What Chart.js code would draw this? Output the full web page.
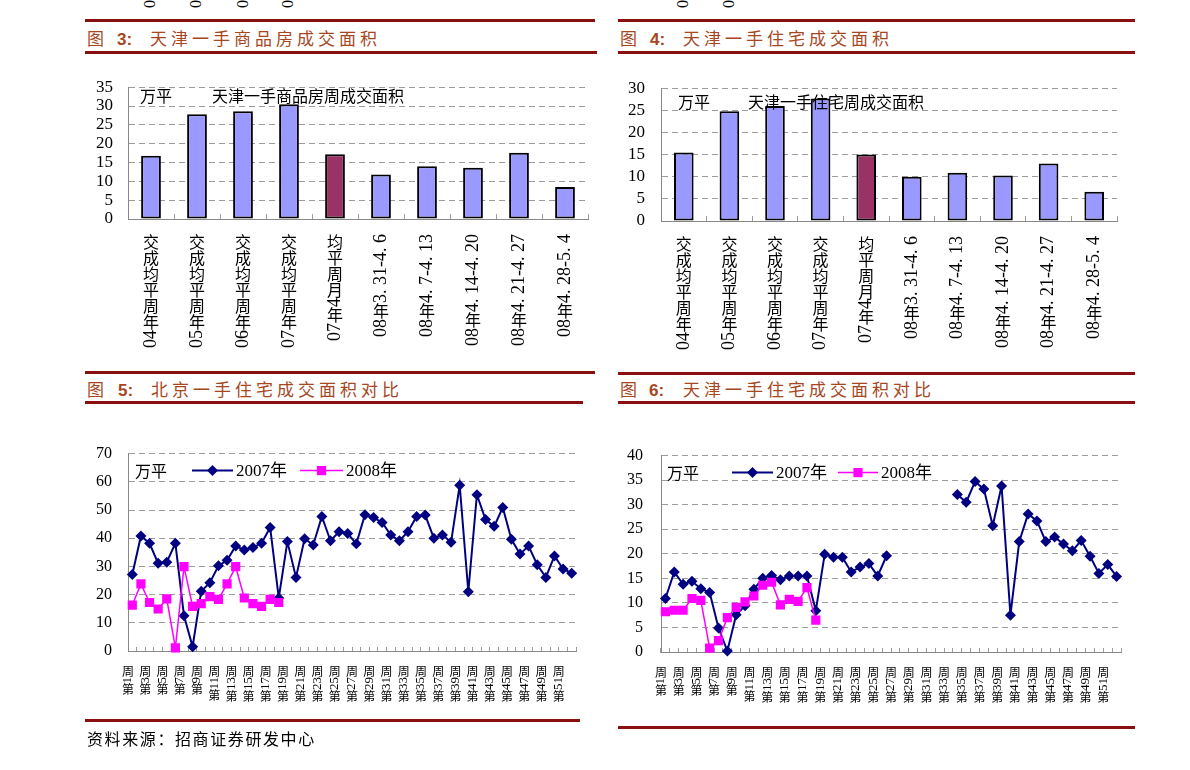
<!DOCTYPE html>
<html>
<head>
<meta charset="utf-8">
<title>一手房成交面积</title>
<script src="https://cdn.jsdelivr.net/npm/chart.js@4.4.1/dist/chart.umd.min.js"></script>
<style>
  html, body { margin: 0; background: #fff; }
  body { position: relative; width: 1190px; height: 770px; overflow: hidden; font-family: "Noto Sans CJK SC", sans-serif; }
  canvas { position: absolute; }
  .rule { position: absolute; height: 3px; background: #8a1010; }
  .t { position: absolute; color: #a8461e; font-size: 17px; line-height: 22px; white-space: nowrap; }
  .t b { font-family: "Liberation Sans", Arial, sans-serif; }
  .t.main { letter-spacing: 4px; }
  .stub { position: absolute; top: -4px; width: 8px; text-align: center; font: 16px "Liberation Serif", serif; line-height: 16px; transform: rotate(-90deg); }
  .src { position: absolute; left: 87px; top: 727px; font-size: 16px; line-height: 22px; letter-spacing: 1.6px; white-space: nowrap; }
</style>
</head>
<body>
<!-- cut-off labels of the chart above -->
<span class="stub" style="left:146px">0</span>
<span class="stub" style="left:192px">0</span>
<span class="stub" style="left:239px">0</span>
<span class="stub" style="left:284px">0</span>
<span class="stub" style="left:679px">0</span>
<span class="stub" style="left:725px">0</span>

<div class="rule" style="left:85px;top:19px;width:510px"></div>
<div class="t" style="left:87px;top:27px">图</div>
<div class="t" style="left:117px;top:27px"><b>3:</b></div>
<div class="t main" style="left:150px;top:27px">天津一手商品房成交面积</div>
<div class="rule" style="left:85px;top:51px;width:512px"></div>

<div class="rule" style="left:618px;top:19px;width:517px"></div>
<div class="t" style="left:620px;top:27px">图</div>
<div class="t" style="left:650px;top:27px"><b>4:</b></div>
<div class="t main" style="left:683px;top:27px">天津一手住宅成交面积</div>
<div class="rule" style="left:618px;top:51px;width:517px"></div>

<div class="rule" style="left:85px;top:371px;width:510px"></div>
<div class="t" style="left:87px;top:378px">图</div>
<div class="t" style="left:118px;top:378px"><b>5:</b></div>
<div class="t main" style="left:151px;top:378px">北京一手住宅成交面积对比</div>
<div class="rule" style="left:85px;top:401px;width:498px"></div>

<div class="rule" style="left:618px;top:372px;width:517px"></div>
<div class="t" style="left:620px;top:378px">图</div>
<div class="t" style="left:649px;top:378px"><b>6:</b></div>
<div class="t main" style="left:683px;top:378px">天津一手住宅成交面积对比</div>
<div class="rule" style="left:618px;top:401px;width:517px"></div>

<canvas id="c3" width="516" height="304" style="left:80px;top:62px"></canvas>
<canvas id="c4" width="513" height="304" style="left:612px;top:62px"></canvas>
<canvas id="c5" width="504" height="292" style="left:80px;top:428px"></canvas>
<canvas id="c6" width="517" height="292" style="left:612px;top:428px"></canvas>

<div class="rule" style="left:85px;top:719px;width:495px"></div>
<div class="rule" style="left:618px;top:726px;width:517px"></div>
<div class="src">资料来源：招商证券研发中心</div>

<script>
const SERIF = '"Liberation Serif", "Times New Roman", serif';
const CJK = '"Noto Sans CJK SC", sans-serif';

// bar charts (万平)
const barLabels = ['04年周平均成交', '05年周平均成交', '06年周平均成交', '07年周平均成交', '07年4月周平均',
  '08年3. 31-4. 6', '08年4. 7-4. 13', '08年4. 14-4. 20', '08年4. 21-4. 27', '08年4. 28-5. 4'];
const tjAllArea = [16.8, 27.8, 28.6, 30.5, 17.2, 11.8, 14.0, 13.6, 17.6, 8.5];
const tjHomeArea = [15.5, 24.8, 26.0, 27.7, 15.0, 10.0, 10.9, 10.3, 13.0, 6.6];
const HIGHLIGHT = 4; // 07年4月周平均

// weekly charts (万平)
const weekLabels = [];
for (let w = 1; w <= 52; w++) weekLabels.push('第' + w + '周');
const bj2007 = [27.1, 40.8, 38.2, 31.1, 31.5, 38.2, 12.5, 1.5, 21.2, 24.2,
  30.2, 32.2, 37.2, 35.8, 36.7, 38.2, 43.8, 18.8, 38.8, 26.1,
  39.8, 37.6, 47.7, 39.1, 42.3, 41.7, 38.0, 48.3, 47.3, 45.6,
  41.1, 39.1, 42.3, 47.7, 48.2, 40.0, 41.1, 38.6, 58.8, 21.0,
  55.4, 46.6, 44.2, 50.9, 39.6, 34.4, 37.2, 30.6, 26.1, 33.7,
  29.1, 27.6];
const bj2008 = [16.3, 23.8, 17.2, 14.9, 18.5, 1.1, 29.9, 15.8, 16.8, 19.3,
  18.3, 23.8, 29.9, 18.8, 16.8, 15.8, 18.3, 17.2];
const tj2007 = [10.9, 16.3, 13.8, 14.4, 12.9, 12.1, 4.9, 0.2, 7.6, 9.4,
  12.8, 15.0, 15.6, 14.7, 15.5, 15.5, 15.5, 8.4, 19.9, 19.3,
  19.3, 16.3, 17.3, 18.0, 15.5, 19.6, null, null, null, null,
  null, null, null, 32.1, 30.5, 34.7, 33.2, 25.7, 33.8, 7.5,
  22.5, 28.1, 26.7, 22.5, 23.4, 22.0, 20.6, 22.7, 19.5, 16.0,
  17.8, 15.4];
const tj2008 = [8.2, 8.5, 8.5, 10.9, 10.5, 0.8, 2.3, 7.0, 9.1, 10.2,
  11.4, 13.6, 14.2, 9.6, 10.7, 10.3, 13.1, 6.5];

// CJK glyphs stay upright, latin runs turned, read bottom to top
function drawUpward(ctx, text, x, top, cjkPx, latinPx) {
  const runs = [];
  for (const ch of text) {
    const wide = /[\u2e80-\u9fff\uff00-\uffef]/.test(ch);
    const last = runs[runs.length - 1];
    if (!wide && last && !last.wide) last.s += ch;
    else runs.push({ wide, s: ch });
  }
  let y = top;
  ctx.textBaseline = 'middle';
  for (let i = runs.length - 1; i >= 0; i--) {
    const r = runs[i];
    if (r.wide) {
      ctx.font = cjkPx + 'px ' + CJK;
      ctx.textAlign = 'center';
      ctx.fillText(r.s, x, y + cjkPx / 2);
      y += cjkPx;
    } else {
      ctx.font = latinPx + 'px ' + SERIF;
      const w = ctx.measureText(r.s).width;
      ctx.save();
      ctx.translate(x, y + w);
      ctx.rotate(-Math.PI / 2);
      ctx.textAlign = 'left';
      ctx.fillText(r.s, 0, 0);
      ctx.restore();
      y += w;
    }
  }
}

const vertLabels = {
  id: 'vertLabels',
  afterDraw(chart, args, o) {
    const sc = chart.scales.x, ctx = chart.ctx;
    const half = (sc.getPixelForTick(1) - sc.getPixelForTick(0)) / 2;
    ctx.save();
    ctx.fillStyle = '#000';
    chart.data.labels.forEach((lab, i) => {
      if (i % o.every) return;
      const x = sc.getPixelForTick(i) - (o.boundary ? half : 0);
      drawUpward(ctx, lab, x, sc.top + o.gap, o.cjk, o.latin);
    });
    ctx.restore();
  }
};

function marker(ctx, style, x, y, r, color) {
  ctx.fillStyle = color;
  ctx.beginPath();
  if (style === 'rectRot') {
    ctx.moveTo(x, y - r); ctx.lineTo(x + r, y); ctx.lineTo(x, y + r); ctx.lineTo(x - r, y);
  } else {
    const s = r * Math.SQRT1_2;
    ctx.rect(x - s, y - s, 2 * s, 2 * s);
  }
  ctx.closePath();
  ctx.fill();
}

// unit text, caption and line keys inside the plot
const notes = {
  id: 'notes',
  afterDraw(chart, args, o) {
    const { ctx, chartArea: a } = chart;
    ctx.save();
    ctx.fillStyle = '#000';
    ctx.textAlign = 'left';
    ctx.textBaseline = 'middle';
    (o.texts || []).forEach(t => {
      ctx.font = '16px ' + CJK;
      ctx.fillText(t.text, a.left + t.x, a.top + t.y);
    });
    (o.keys || []).forEach(k => {
      const ds = chart.data.datasets[k.index];
      const y = a.top + k.y;
      ctx.strokeStyle = ds.borderColor;
      ctx.lineWidth = ds.borderWidth;
      ctx.beginPath();
      ctx.moveTo(a.left + k.x1, y);
      ctx.lineTo(a.left + k.x2, y);
      ctx.stroke();
      marker(ctx, ds.pointStyle, a.left + (k.x1 + k.x2) / 2, y, ds.pointRadius, ds.borderColor);
      ctx.fillStyle = '#000';
      ctx.font = '17px ' + SERIF + ', ' + CJK;
      ctx.fillText(ds.label, a.left + k.x2 + 3, y + 1);
    });
    ctx.restore();
  }
};

function yAxis(max, step, width, pad, size) {
  return {
    min: 0, max: max,
    ticks: { stepSize: step, autoSkip: false, padding: pad, color: '#000', font: { family: SERIF, size: size } },
    grid: { color: '#9c9c9c', drawTicks: false },
    border: { color: '#888', dash: [6, 4] },
    afterFit: s => { s.width = width; }
  };
}

function xAxis(height, tick) {
  return {
    offset: true,
    grid: { offset: true, drawOnChartArea: false, drawTicks: true, tickLength: tick, color: '#9c9c9c' },
    border: { color: '#888' },
    ticks: { display: false },
    afterFit: s => { s.height = height; }
  };
}

function base(scales, labelOpts, noteOpts) {
  return {
    responsive: false,
    animation: false,
    events: [],
    layout: { padding: { top: 14, right: 8, left: 0, bottom: 0 } },
    plugins: { legend: { display: false }, tooltip: { enabled: false }, vertLabels: labelOpts, notes: noteOpts },
    scales: scales
  };
}

function barChart(id, values, yMax, yW, yPad, xH, noteOpts) {
  return new Chart(document.getElementById(id), {
    type: 'bar',
    data: {
      labels: barLabels,
      datasets: [{
        data: values,
        backgroundColor: c => c.dataIndex === HIGHLIGHT ? '#993366' : '#9999ff',
        borderColor: '#000',
        borderWidth: 2,
        borderSkipped: false,
        barPercentage: 0.43,
        categoryPercentage: 1
      }]
    },
    options: base({ x: xAxis(xH, -5), y: yAxis(yMax, 5, yW, yPad, 17) },
      { every: 1, boundary: false, gap: 15, cjk: 16, latin: 18 }, noteOpts),
    plugins: [vertLabels, notes]
  });
}

function weekChart(id, s2007, s2008, yMax, yStep, yW, yPad, xH, noteOpts) {
  return new Chart(document.getElementById(id), {
    type: 'line',
    data: {
      labels: weekLabels,
      datasets: [
        { label: '2007年', data: s2007, borderColor: '#000080', backgroundColor: '#000080', borderWidth: 2,
          pointStyle: 'rectRot', pointRadius: 5.5, pointBorderWidth: 0, tension: 0, clip: 8, order: 1 },
        { label: '2008年', data: s2008, borderColor: '#ff00ff', backgroundColor: '#ff00ff', borderWidth: 1.5,
          pointStyle: 'rect', pointRadius: 6.5, pointBorderWidth: 0, tension: 0, clip: 8, order: 0 }
      ]
    },
    options: base({ x: xAxis(xH, -4), y: yAxis(yMax, yStep, yW, yPad, 16) },
      { every: 2, boundary: true, gap: 14, cjk: 12, latin: 13 }, noteOpts),
    plugins: [vertLabels, notes]
  });
}

barChart('c3', tjAllArea, 35, 48, 15, 147,
  { texts: [{ text: '万平', x: 12, y: 9 }, { text: '天津一手商品房周成交面积', x: 84, y: 9 }] });
barChart('c4', tjHomeArea, 30, 49, 16, 145,
  { texts: [{ text: '万平', x: 17, y: 14 }, { text: '天津一手住宅周成交面积', x: 87, y: 14 }] });
weekChart('c5', bj2007, bj2008, 70, 10, 48, 16, 69,
  { texts: [{ text: '万平', x: 7, y: 17 }],
    keys: [{ index: 0, x1: 64, x2: 105, y: 17 }, { index: 1, x1: 172, x2: 215, y: 17 }] });
weekChart('c6', tj2007, tj2008, 40, 5, 49, 18, 68,
  { texts: [{ text: '万平', x: 6, y: 17 }],
    keys: [{ index: 0, x1: 71, x2: 112, y: 17 }, { index: 1, x1: 177, x2: 217, y: 17 }] });
</script>
</body>
</html>
